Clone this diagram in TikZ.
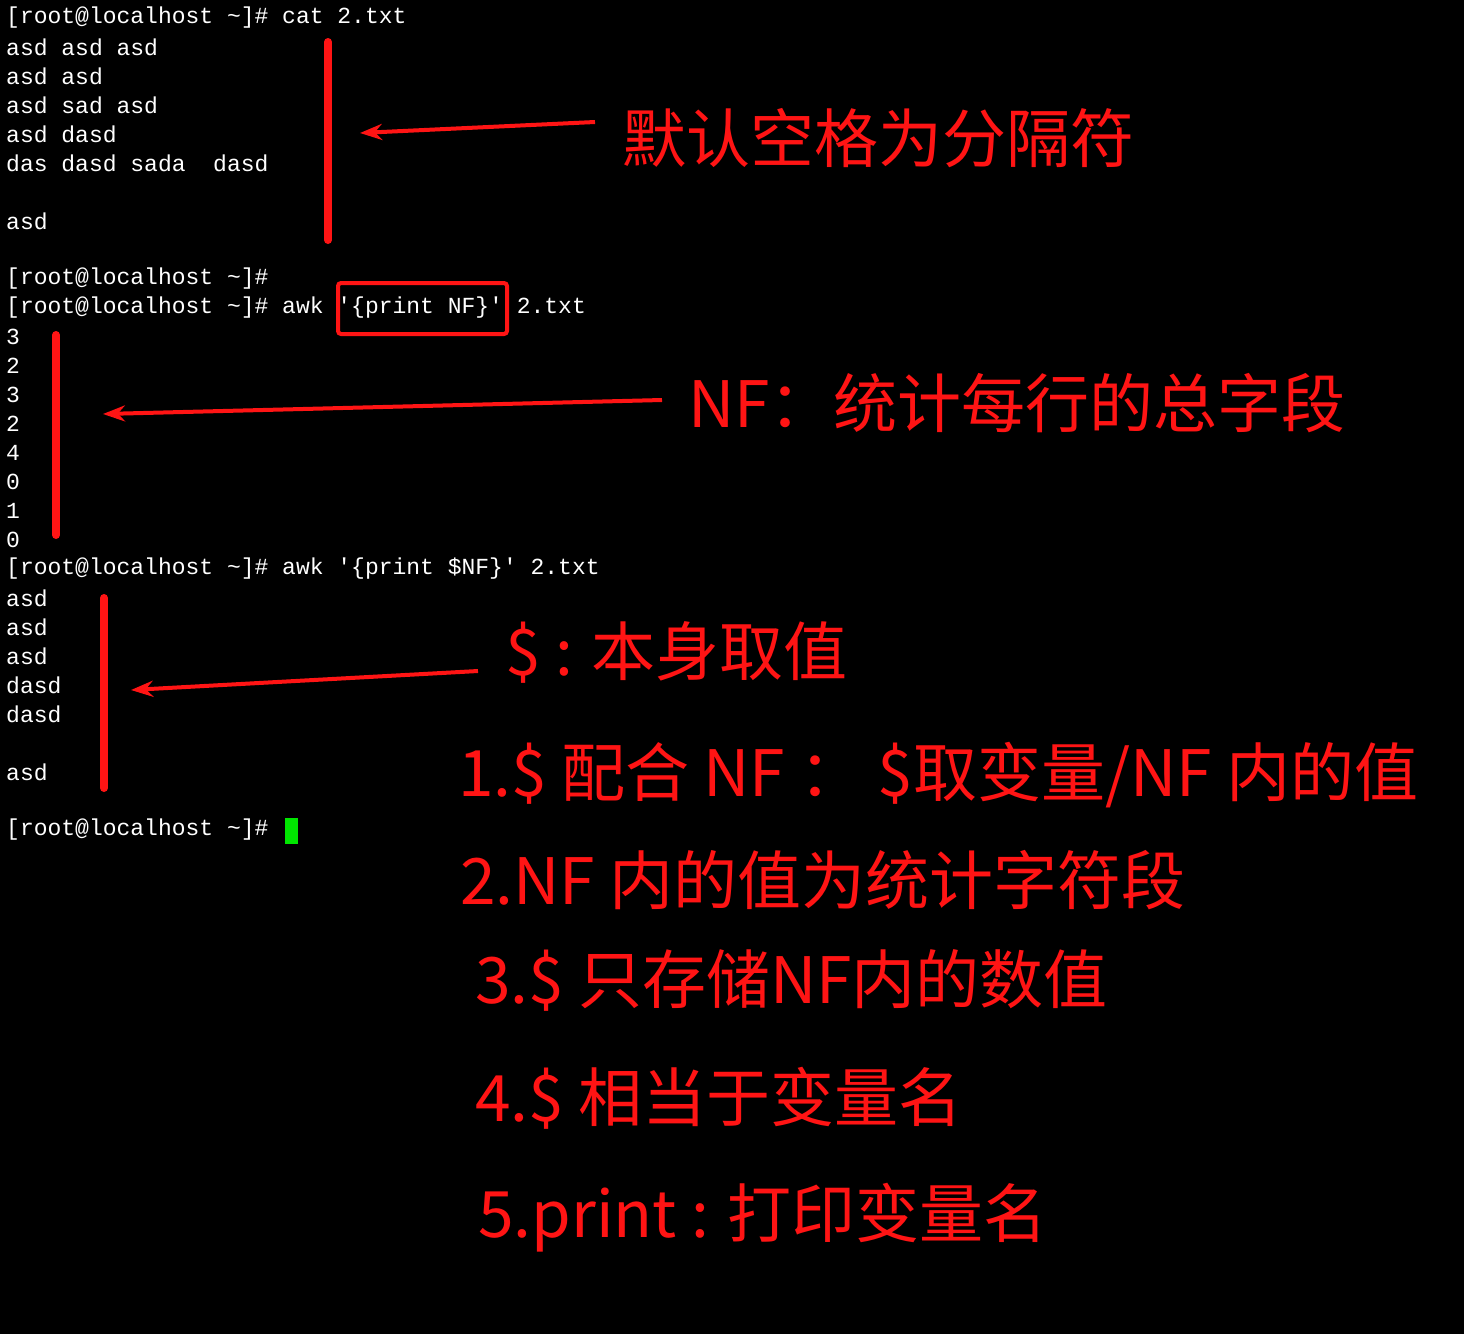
\documentclass[tikz,border=0pt]{standalone}
\usepackage{fontspec}
\setmonofont{Liberation Mono}
\newfontfamily\cjk{Noto Sans CJK SC}
\usetikzlibrary{arrows.meta}
\definecolor{rd}{RGB}{255,20,20}
\definecolor{gr}{RGB}{0,230,0}
\begin{document}
\begin{tikzpicture}[x=1pt,y=-1pt,
  term/.style={anchor=west,inner sep=0pt,text=white,font=\ttfamily\fontsize{23}{23}\selectfont},
  note/.style={anchor=west,inner sep=0pt,text=rd,font=\cjk\fontsize{64}{64}\selectfont},
  bar/.style={rd,line width=8pt,line cap=round},
  arr/.style={rd,line width=4pt,-{Stealth[length=22pt,width=16pt]}}]
\fill[black] (0,0) rectangle (1464,1334);
\useasboundingbox (0,0) rectangle (1464,1334);
\foreach \t [count=\i from 0] in {{[root@localhost \textasciitilde]\# cat 2.txt},{asd asd asd},{asd asd},{asd sad asd},{asd dasd},{das dasd sada\ \ dasd},{},{asd},{},{[root@localhost \textasciitilde]\#},{[root@localhost \textasciitilde]\# awk '\{print NF\}' 2.txt},3,2,3,2,4,0,1,0,{[root@localhost \textasciitilde]\# awk '\{print \$NF\}' 2.txt},asd,asd,asd,dasd,dasd,{},asd,{},{[root@localhost \textasciitilde]\#}}
  \node[term] (l\i) at (6,{18+29*\i}) {\t};
\fill[gr] (285,818) rectangle (298,844);
\node[draw=rd,line width=4pt,rounded corners=3pt,minimum width=169pt,minimum height=51pt] (box) at (422.5,308.5) {};
\coordinate (b1a) at (328,42); \coordinate (b1b) at (328,240);
\draw[bar] (b1a) -- (b1b);
\coordinate (b2a) at (56,335); \coordinate (b2b) at (56,535);
\draw[bar] (b2a) -- (b2b);
\coordinate (b3a) at (104,598); \coordinate (b3b) at (104,788);
\draw[bar] (b3a) -- (b3b);
\node[note] (n1) at (622,138) {默认空格为分隔符};
\node[note] (n2) at (688,403) {NF：统计每行的总字段};
\node[note] (n3) at (505,652) {\$ : 本身取值};
\node[note] (n4) at (458,775) {1.\$ 配合 NF ： \$取变量/NF 内的值};
\node[note] (n5) at (460,880) {2.NF 内的值为统计字符段};
\node[note] (n6) at (475,980) {3.\$ 只存储NF内的数值};
\node[note] (n7) at (475,1098) {4.\$ 相当于变量名};
\node[note] (n8) at (478,1218) {5.print : 打印变量名};
\coordinate (a1) at (595,122); \coordinate (t1) at (360,133);
\coordinate (a2) at (662,400); \coordinate (t2) at (103,414);
\coordinate (a3) at (478,671); \coordinate (t3) at (131,690);
\draw[arr] (a1) -- (t1);
\draw[arr] (a2) -- (t2);
\draw[arr] (a3) -- (t3);
\end{tikzpicture}
\end{document}
